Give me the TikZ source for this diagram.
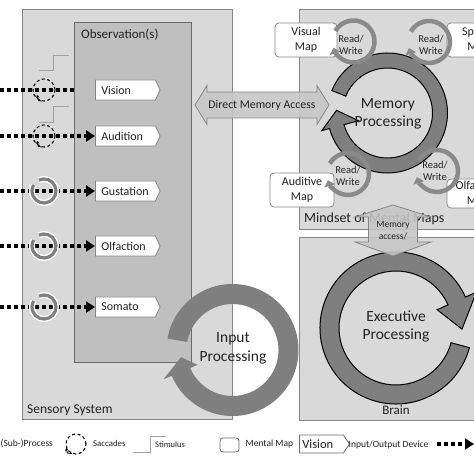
\documentclass[tikz,border=0pt]{standalone}
\usepackage{fontspec}
\setmainfont{Carlito}
\usetikzlibrary{arrows.meta,shapes.symbols,calc}
\definecolor{boxfill}{HTML}{D9D9D9}
\definecolor{obsfill}{HTML}{BFBFBF}
\definecolor{edge}{HTML}{868686}
\definecolor{darkedge}{HTML}{6A6A6A}
\definecolor{ringgray}{HTML}{7F7F7F}
\definecolor{rwgray}{HTML}{8A8A8A}
\definecolor{arrfill}{HTML}{C6C6C6}
\definecolor{stimgray}{HTML}{A0A0A0}
\definecolor{txt}{HTML}{222222}
\newcommand\myfs[2]{\fontsize{#1}{#2}\selectfont}
\begin{document}
\begin{tikzpicture}[x=1pt,y=1pt,
  sbox/.style={draw=edge, fill=boxfill, line width=1pt, inner sep=0pt, anchor=south west},
  lbl/.style={text=txt, inner sep=0pt},
  dev/.style={signal, signal to=east, signal pointer angle=130, draw=edge, fill=white, line width=0.8pt, minimum height=20pt, text width=48pt, inner xsep=6pt, inner ysep=0pt, align=left, text=txt, font=\myfs{12}{14}, anchor=west},
  mapbox/.style={draw=edge, fill=white, line width=0.8pt, rounded corners=4pt, align=center, text=txt, font=\myfs{12}{15}, inner sep=0pt},
  rwring/.style={draw=rwgray, line width=4.5pt, -{Triangle[length=6pt,width=11pt]}},
  rwtext/.style={align=center, text=txt, font=\myfs{10.5}{12}, inner sep=0pt},
  procring/.style={draw=ringgray, line width=3.2pt},
  halo/.style={draw=white, line width=6pt},
  sacc/.style={draw=black, line width=1.1pt, dash pattern=on 3pt off 2.5pt},
  stimline/.style={draw=stimgray, line width=1pt},
  dotline/.style={draw=black, line width=3.5pt, dash pattern=on 4pt off 3pt},
  dotarrow/.style={dotline, -{Triangle[length=9pt,width=11pt]}},
  bigring/.style={fill=ringgray, draw=black, line width=1pt},
  dblarrow/.style={fill=arrfill, fill opacity=0.88, draw=edge, line width=0.8pt},
  bigtext/.style={align=center, text=txt, font=\myfs{15.5}{18.5}, inner sep=0pt},
  legtext/.style={text=txt, inner sep=0pt, anchor=west, font=\myfs{9.5}{11}},
]
\useasboundingbox (0,0) rectangle (474,474);
\fill[white] (0,0) rectangle (474,474);

% ---------- containers ----------
\node[sbox, minimum width=210pt, minimum height=410pt] (sens) at (22,54) {};
\node[sbox, fill=obsfill, draw=darkedge, minimum width=117pt, minimum height=340pt] (obs) at (74,111) {};
\node[sbox, minimum width=191pt, minimum height=220pt] (mind) at (299,244) {};
\node[sbox, minimum width=191pt, minimum height=183pt] (brain) at (299,53) {};

\node[lbl, anchor=west, font=\myfs{13}{15}] (obslbl) at (81,439) {Observation(s)};
\node[lbl, anchor=west, font=\myfs{13.5}{15}] (senslbl) at (27,64) {Sensory System};
\node[lbl, anchor=west, font=\myfs{14}{16}] (mindlbl) at (304,255) {Mindset of Mental Maps};
\node[lbl, font=\myfs{13}{15}] (brainlbl) at (396,64) {Brain};

% ---------- stimulus steps ----------
\draw[stimline] (39,403) -- (53,403) -- (53,418) -- (69,418);
\draw[stimline] (39,351) -- (53,351) -- (53,367) -- (69,367);

% ---------- saccades ----------
\draw[sacc] (44,384) circle[radius=11];
\draw[sacc] (44,338) circle[radius=11];
\draw[line width=0.9pt, -{Stealth[length=3pt,width=3.5pt]}] (42,373) -- (38.5,373.5) -- (37,379);
\draw[line width=0.9pt, -{Stealth[length=3pt,width=3.5pt]}] (42,327) -- (38.5,327.5) -- (37,333);

% ---------- devices ----------
\node[dev] (vis) at (95,384) {Vision};
\node[dev] (aud) at (95,338) {Audition};
\node[dev] (gus) at (95,283) {Gustation};
\node[dev] (olf) at (95,228) {Olfaction};
\node[dev] (som) at (95,167) {Somato};

% ---------- incoming dotted arrows ----------
\coordinate (in1) at (0,384);
\coordinate (in2) at (0,338);
\coordinate (in3) at (0,283);
\coordinate (in4) at (0,228);
\coordinate (in5) at (0,167);
\draw[dotline] (in1) -- (in1 -| obs.west);
\draw[dotarrow] (in2) -- (aud.west);
\draw[dotarrow] (in3) -- (gus.west);
\draw[dotarrow] (in4) -- (olf.west);
\draw[dotarrow] (in5) -- (som.west);

% ---------- process rings ----------
\foreach \yy in {283,228,167}{
  \draw[halo] (44,\yy) ++(115:12) arc[start angle=115, end angle=-210, radius=12];
  \draw[procring] (44,\yy) ++(115:12) arc[start angle=115, end angle=-210, radius=12];
}

% ---------- mental maps ----------
\node[mapbox, minimum width=62pt, minimum height=34pt] (vmap) at (306,434) {Visual\\Map};
\node[mapbox, minimum width=63pt, minimum height=34pt] (smap) at (478.5,434) {Spatial\\Map};
\node[mapbox, minimum width=64pt, minimum height=34pt] (amap) at (302,284) {Auditive\\Map};
\node[mapbox, minimum width=62pt, minimum height=29pt] (omap) at (478,280.5) {Olfactory\\Map};

% ---------- memory processing ----------
\coordinate (mc) at (387.5,361);
\filldraw[bigring] ($(mc)+(158:60)$) arc[start angle=158, end angle=-165, radius=60]
  -- ($(mc)+(-165:68)$) -- ($(mc)+(177:51)$) -- ($(mc)+(-165:30)$)
  -- ($(mc)+(-165:45)$) arc[start angle=-165, end angle=158, radius=45] -- cycle;
\node[bigtext] (mp) at (388,360) {Memory\\Processing};

% ---------- read/write rings ----------
\foreach \cx/\cy in {353.5/432.5, 429/432, 348/300, 437/303}{
  \draw[rwring] (\cx,\cy) ++(150:21) arc[start angle=150, end angle=-163, radius=21];
}
\node[rwtext] (rw1) at (351,429) {Read/\\Write};
\node[rwtext] (rw2) at (431,429) {Read/\\Write};
\node[rwtext] (rw3) at (348,298) {Read/\\Write};
\node[rwtext] (rw4) at (435,303) {Read/\\Write};

% ---------- executive processing ----------
\coordinate (ec) at (396,146);
\filldraw[bigring] ($(ec)+(-15:76)$) arc[start angle=-15, end angle=-336, radius=76]
  -- ($(ec)+(24:88)$) -- ($(ec)+(-1:66)$) -- ($(ec)+(24:45)$)
  -- ($(ec)+(24:57)$) arc[start angle=-336, end angle=-15, radius=57] -- cycle;
\node[bigtext] (ep) at (396,147.5) {Executive\\Processing};

% ---------- input processing ----------
\coordinate (ic) at (232.5,124);
\fill[ringgray] ($(ic)+(170:66)$) arc[start angle=170, end angle=-157, radius=66]
  -- ($(ic)+(-157:75)$) -- ($(ic)+(188:52)$) -- ($(ic)+(-157:38)$)
  -- ($(ic)+(-157:46)$) arc[start angle=-157, end angle=170, radius=46] -- cycle;
\node[bigtext] (ip) at (233,125.5) {Input\\Processing};

% ---------- direct memory access ----------
\filldraw[dblarrow] (195,369) -- (207,388.5) -- (207,382) -- (317,382) -- (317,388.5) -- (329,369)
  -- (317,349.5) -- (317,356) -- (207,356) -- (207,349.5) -- cycle;
\node[lbl, font=\myfs{11.8}{14}] (dma) at (262,369) {Direct Memory Access};

% ---------- memory access ----------
\filldraw[dblarrow] (393,269) -- (431,257) -- (417.5,257) -- (417.5,232) -- (431,232) -- (393,218)
  -- (355,232) -- (368.5,232) -- (368.5,257) -- (355,257) -- cycle;
\node[lbl, align=center, font=\myfs{9.5}{12}] (macc) at (393,243) {Memory\\access/};

% ---------- legend ----------
\node[legtext] (lproc) at (0.5,30) {(Sub-)Process};
\draw[sacc] (76,30) circle[radius=10];
\draw[line width=0.9pt, -{Stealth[length=3pt,width=3.5pt]}] (72,20.5) -- (67.5,21) -- (66,26);
\node[legtext, font=\myfs{8.8}{10}] (lsac) at (93,30.5) {Saccades};
\draw[stimline] (133,21) -- (150,21) -- (150,37) -- (166,37);
\node[legtext, font=\myfs{8.5}{10}] (lstim) at (155,29.5) {Stimulus};
\node[draw=darkedge, fill=white, line width=0.8pt, rounded corners=3pt, minimum width=19pt, minimum height=14pt, inner sep=0pt] (lmap) at (229.5,29) {};
\node[legtext] (lmaptxt) at (245.5,30) {Mental Map};
\node[signal, signal to=east, signal pointer angle=112, draw=darkedge, fill=white, line width=0.8pt, minimum height=18pt, text width=38pt, inner xsep=3pt, inner ysep=0pt, align=left, text=txt, font=\myfs{12.5}{14}, anchor=west] (lvis) at (299,30) {Vision};
\node[legtext] (ldev) at (348.5,29.5) {Input/Output Device};
\coordinate (lda) at (437,30);
\coordinate (ldb) at (474,30);
\draw[dotarrow] (lda) -- (ldb);
\end{tikzpicture}
\end{document}
